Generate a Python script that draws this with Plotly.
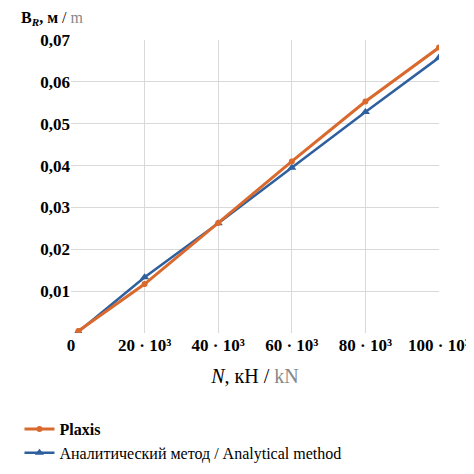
import plotly.graph_objects as go

N = [2000, 20000, 40000, 60000, 80000, 100000]
plaxis = [0.0005, 0.0117, 0.0263, 0.0410, 0.0553, 0.0682]
analytic = [0.0003, 0.0133, 0.0262, 0.0395, 0.0528, 0.0658]
xtick_vals = [0, 20000, 40000, 60000, 80000, 100000]
xtick_text = ["<b>0</b>", "<b>20 · 10³</b>", "<b>40 · 10³</b>", "<b>60 · 10³</b>", "<b>80 · 10³</b>", "<b>100 · 10³</b>"]
ytick_vals = [0.01, 0.02, 0.03, 0.04, 0.05, 0.06, 0.07]
ytick_text = ["<b>0,01</b>", "<b>0,02</b>", "<b>0,03</b>", "<b>0,04</b>", "<b>0,05</b>", "<b>0,06</b>", "<b>0,07</b>"]

F = "Liberation Serif"
fig = go.Figure()
fig.add_trace(go.Scatter(x=N, y=analytic, mode="lines+markers", name="Аналитический метод / Analytical method",
                         line=dict(color="#2e5f9e", width=2.5), marker=dict(symbol="triangle-up", size=8)))
fig.add_trace(go.Scatter(x=N, y=plaxis, mode="lines+markers", name="<b>Plaxis</b>",
                         line=dict(color="#d9692c", width=3), marker=dict(size=6)))
fig.update_layout(
    width=474, height=474, paper_bgcolor="white", plot_bgcolor="white",
    margin=dict(l=58, r=38, t=32, b=122),
    font=dict(family=F, size=17, color="black"),
    showlegend=True, legend=dict(orientation="v", x=-0.14, y=-0.27, xanchor="left", yanchor="top",
                                 traceorder="reversed", font=dict(size=16)),
    xaxis=dict(range=[0, 100000], tickvals=xtick_vals, ticktext=xtick_text, showgrid=True,
               gridcolor="#d9d9d9", zeroline=False, showline=False,
               title=dict(text="<i>N</i>, кН / <span style='color:#888'>kN</span>", standoff=14)),
    yaxis=dict(range=[0, 0.07], tickvals=ytick_vals, ticktext=ytick_text, showgrid=True,
               gridcolor="#d9d9d9", zeroline=False, showline=False),
)
fig.add_annotation(text="<b>B<sub><i>R</i></sub>, м</b> / <span style='color:#888'>m</span>", xref="paper", yref="paper",
                   x=-0.14, y=1.035, xanchor="left", yanchor="bottom", showarrow=False, font=dict(size=16))
fig.write_html("out.html")
